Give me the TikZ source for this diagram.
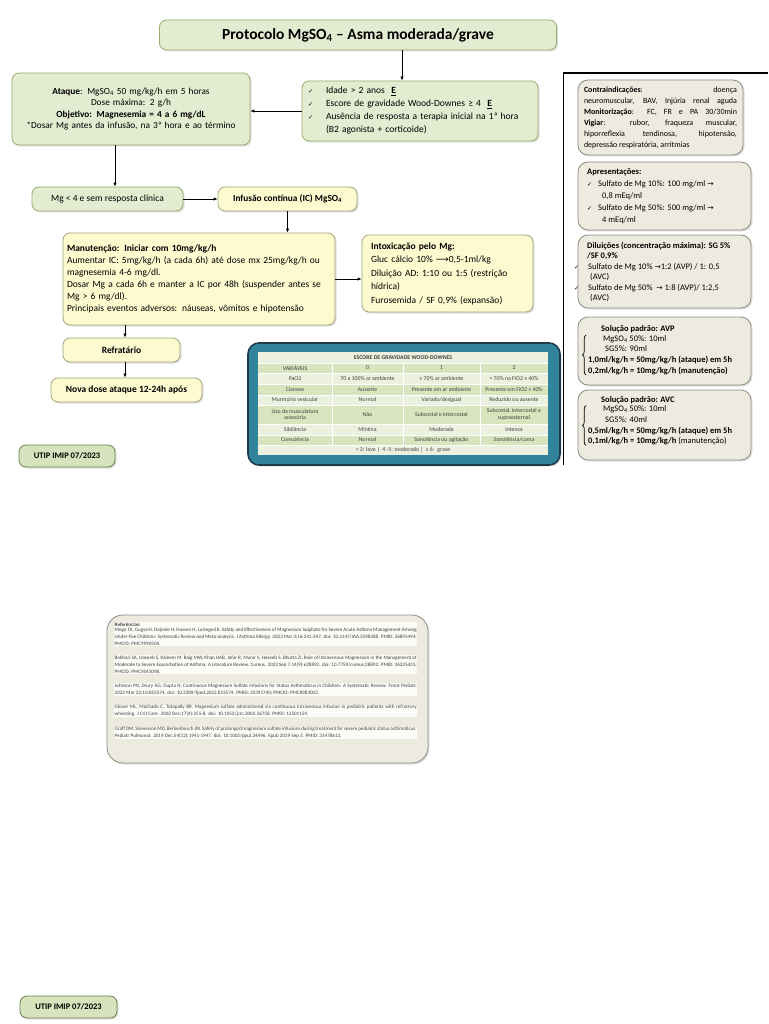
\documentclass[tikz,border=0pt]{standalone}
\usepackage{fontspec}
\setmainfont{Carlito}
\newfontfamily\dejavu{DejaVu Sans}
\usetikzlibrary{arrows.meta,shadows,decorations.pathreplacing}
\definecolor{grfill}{HTML}{E3EBD1}
\definecolor{grdraw}{HTML}{95AC6C}
\definecolor{yefill}{HTML}{FDFACF}
\definecolor{yedraw}{HTML}{A3A27A}
\definecolor{befill}{HTML}{EDEBE0}
\definecolor{bedraw}{HTML}{8C8C80}
\definecolor{utfill}{HTML}{D6E3BC}
\definecolor{utdraw}{HTML}{6E7F4E}
\definecolor{wdteal}{HTML}{31849B}
\definecolor{wdborder}{HTML}{1F3A48}
\definecolor{tgreen}{HTML}{D7E4BD}
\definecolor{tlight}{HTML}{EBF1DE}
\definecolor{ttext}{HTML}{404040}
\newcommand\ck{{\dejavu\fontsize{6}{6}\selectfont ✓}}
\newcommand\rarr{{\dejavu\fontsize{7.5}{7.5}\selectfont →}}
\newcommand\lrarr{{\dejavu\fontsize{9}{9}\selectfont ⟶}}
\newcommand\wdrow[6]{%
  \node[wdcell] (#1a) at (295,#2) {#3};
  \node[wdcell] (#1b) at (367.5,#2) {#4};
  \node[wdcell] (#1c) at (441.5,#2) {#5};
  \node[wdcell] (#1d) at (514,#2) {#6};}
\tikzset{
  box/.style={rounded corners=7pt, line width=0.8pt, inner sep=0pt,
    drop shadow={opacity=0.25, shadow xshift=1.5pt, shadow yshift=-1.5pt}},
  grbox/.style={box, fill=grfill, draw=grdraw},
  yebox/.style={box, fill=yefill, draw=yedraw},
  bebox/.style={box, fill=befill, draw=bedraw, rounded corners=10pt},
  utbox/.style={box, fill=utfill, draw=utdraw, font=\bfseries\fontsize{8.5}{9}\selectfont},
  arr/.style={line width=0.8pt, -{Latex[length=4pt,width=3.5pt]}},
  txt/.style={inner sep=0pt},
  rtxt/.style={txt, align=left, font=\fontsize{8.5}{12}\selectfont},
  lbrace/.style={decorate, decoration={brace, amplitude=3.5pt}, line width=0.7pt},
  wdcell/.style={inner sep=0pt, align=center, text=ttext, font=\fontsize{5.8}{6.4}\selectfont},
  reftext/.style={inner sep=0.5pt, fill=white, fill opacity=0.8, text opacity=1, text=ttext,
    text width=302pt, align=justify, font=\fontsize{5.1}{7}\selectfont}
}
\begin{document}
\begin{tikzpicture}[x=1pt,y=-1pt]
\useasboundingbox (0,0) rectangle (768,1024);
\fill[white] (0,0) rectangle (768,1024);

% title
\node[grbox, minimum width=397pt, minimum height=30pt, font=\bfseries\fontsize{15.5}{17}\selectfont] (title) at (358,35)
  {Protocolo MgSO\textsubscript{4} – Asma moderada/grave};

% criteria box
\node[grbox, minimum width=236pt, minimum height=60pt, text width=224pt, align=left, font=\fontsize{9.5}{13}\selectfont] (crit) at (420,111)
  {\makebox[18pt][l]{\ck}Idade > 2 anos \ \underline{\textbf{E}}\\
   \makebox[18pt][l]{\ck}Escore de gravidade Wood-Downes ≥ 4 \ \underline{\textbf{E}}\\
   \makebox[18pt][l]{\ck}Ausência de resposta a terapia inicial na 1ª hora\\
   \hspace*{18pt}(B2 agonista + corticoide)};

% ataque box
\node[grbox, minimum width=238pt, minimum height=72pt, text width=234pt, align=center, font=\fontsize{9.3}{11.3}\selectfont] (ataque) at (131,109)
  {\textbf{Ataque}: MgSO\textsubscript{4} 50 mg/kg/h em 5 horas\\
   Dose máxima: 2 g/h\\
   \textbf{Objetivo: Magnesemia = 4 a 6 mg/dL}\\
   {*}Dosar Mg antes da infusão, na 3ª hora e ao término};

% row
\node[grbox, minimum width=151pt, minimum height=24pt, font=\fontsize{9.5}{10}\selectfont] (mg) at (107.5,199)
  {Mg < 4 e sem resposta clínica};
\node[yebox, minimum width=139pt, minimum height=24pt, font=\bfseries\fontsize{9.3}{10}\selectfont] (inf) at (287.5,199)
  {Infusão contínua (IC) MgSO\textsubscript{4}};

% maintenance
\node[yebox, minimum width=272pt, minimum height=92pt, text width=264pt, align=left, font=\fontsize{9.5}{12}\selectfont] (manut) at (199,279)
  {\textbf{Manutenção: Iniciar com 10mg/kg/h}\\
   Aumentar IC: 5mg/kg/h (a cada 6h) até dose mx 25mg/kg/h ou\\
   magnesemia 4-6 mg/dl.\\
   Dosar Mg a cada 6h e manter a IC por 48h (suspender antes se\\
   Mg > 6 mg/dl).\\
   Principais eventos adversos: náuseas, vômitos e hipotensão};

% intoxication
\node[yebox, minimum width=171pt, minimum height=77pt, text width=153pt, align=left, font=\fontsize{9.5}{13.5}\selectfont] (intox) at (447.5,273.5)
  {\textbf{Intoxicação pelo Mg:}\\
   Gluc cálcio 10\% \lrarr0,5-1ml/kg\\
   Diluição AD: 1:10 ou 1:5 (restrição\\
   hídrica)\\
   Furosemida / SF 0,9\% (expansão)};

% refractory
\node[yebox, minimum width=117pt, minimum height=24pt, font=\bfseries\fontsize{9.5}{10}\selectfont] (refr) at (121.5,350) {Refratário};
\node[yebox, minimum width=151pt, minimum height=24pt, font=\bfseries\fontsize{9.5}{10}\selectfont] (nova) at (126.5,390) {Nova dose ataque 12-24h após};

% UTIP
\node[utbox, minimum width=96pt, minimum height=22pt] (utip1) at (67,456) {UTIP IMIP 07/2023};
\node[utbox, minimum width=97pt, minimum height=22pt] (utip2) at (68.5,1007) {UTIP IMIP 07/2023};

% connectors
\coordinate (cx) at (402,0);
\coordinate (ax) at (115,0);
\coordinate (rx) at (125,0);
\draw[arr] (title.south -| cx) -- (crit.north -| cx);
\draw[arr] (crit.west) -- (ataque.east |- crit.west);
\draw[arr] (ataque.south -| ax) -- (mg.north -| ax);
\draw[arr] (mg.east) -- (inf.west);
\draw[arr] (inf.south) -- (manut.north -| inf.south);
\draw[arr] (manut.east) -- (intox.west |- manut.east);
\draw[arr] (manut.south -| rx) -- (refr.north -| rx);
\draw[arr] (refr.south -| rx) -- (nova.north -| rx);

% Wood-Downes table
\node[draw=wdborder, fill=wdteal, line width=1.6pt, rounded corners=11pt, minimum width=312pt, minimum height=122pt,
      drop shadow={opacity=0.25, shadow xshift=1.5pt, shadow yshift=-1.5pt}] (wdframe) at (404,404) {};
\foreach \ya/\yb/\c in {352/363/tlight, 363/373/tgreen, 373/384/tlight, 384/395/tgreen, 395/405/tlight,
                        405/424/tgreen, 424/435/tlight, 435/445/tgreen, 445/455/tlight}
  \fill[\c] (258,\ya) rectangle (548,\yb);
\foreach \yy in {363,373,384,395,405,424,435,445}
  \draw[white, line width=0.7pt] (258,\yy) -- (548,\yy);
\foreach \xx in {332,403,480}
  \draw[white, line width=0.7pt] (\xx,363) -- (\xx,445);
\node[wdcell, font=\bfseries\fontsize{5.8}{6.4}\selectfont] (wdtitle) at (403,357.5) {ESCORE DE GRAVIDADE WOOD-DOWNES};
\wdrow{wv}{368}{VARIÁVEIS}{0}{1}{2}
\wdrow{wp}{378.5}{PaO2}{70 a 100\% ar ambiente}{≤ 70\% ar ambiente}{< 70\% na FiO2 ≥ 40\%}
\wdrow{wc}{389.5}{Cianose}{Ausente}{Presente em ar ambiente}{Presente em FiO2 ≥ 40\%}
\wdrow{wm}{400}{Murmúrio vesicular}{Normal}{Variado/desigual}{Reduzido ou ausente}
\wdrow{wu}{414.5}{Uso da musculatura\\acessória}{Não}{Subcostal e intercostal}{Subcostal, intercostal e\\supraesternal}
\wdrow{ws}{429.5}{Sibilância}{Mínima}{Moderada}{Intensa}
\wdrow{wk}{440}{Consciência}{Normal}{Sonolência ou agitação}{Sonolência/coma}
\node[wdcell] (wdfoot) at (403,450) {< 3: leve | \ 4 -5: moderado | \ ≥ 6: \ grave};

% right column frame
\draw[line width=1.6pt] (563,73) -- (768,73);
\draw[line width=1pt] (563,73) -- (563,465);

% right column boxes
\node[bebox, minimum width=165pt, minimum height=75pt] (contra) at (660.5,117.5) {};
\node[txt, text width=153pt, align=justify, font=\fontsize{8}{11}\selectfont] (contraT) at (contra.center)
  {\textbf{Contraindicações}: doença\linebreak
   neuromuscular, BAV, Injúria renal aguda\linebreak
   \textbf{Monitorização}: FC, FR e PA 30/30min\linebreak
   \textbf{Vigiar}: rubor, fraqueza muscular,\linebreak
   hiporreflexia tendinosa, hipotensão,\linebreak
   depressão respiratória, arritmias};

\node[bebox, minimum width=173pt, minimum height=68pt] (apres) at (664.5,196) {};
\node[rtxt, anchor=west] (apresT) at (587,196)
  {\textbf{Apresentações:}\\
   \makebox[11pt][l]{\ck}Sulfato de Mg 10\%: 100 mg/ml \rarr\\
   \hspace*{15pt}0,8 mEq/ml\\
   \makebox[11pt][l]{\ck}Sulfato de Mg 50\%: 500 mg/ml \rarr\\
   \hspace*{15pt}4 mEq/ml};

\node[bebox, minimum width=173pt, minimum height=73pt] (dil) at (664.5,271.5) {};
\node[rtxt, anchor=west, font=\fontsize{8.5}{10.5}\selectfont] (dilT) at (574,272)
  {\hspace*{13pt}\textbf{Diluições (concentração máxima): SG 5\%}\\
   \hspace*{13pt}\textbf{/SF 0,9\%}\\
   \makebox[14pt][l]{\ck}Sulfato de Mg 10\% \rarr1:2 (AVP) / 1: 0,5\\
   \hspace*{16pt}(AVC)\\
   \makebox[14pt][l]{\ck}Sulfato de Mg 50\% \ \rarr\ 1:8 (AVP)/ 1:2,5\\
   \hspace*{16pt}(AVC)};

\node[bebox, minimum width=173pt, minimum height=68pt] (avp) at (664.5,351) {};
\node[txt, anchor=west, font=\bfseries\fontsize{8.5}{10}\selectfont] (avpH) at (601,329.5) {Solução padrão: AVP};
\node[rtxt, anchor=north west, font=\fontsize{8.5}{10.7}\selectfont] (avpL) at (588,335)
  {\hspace*{15pt}MgSO\textsubscript{4} 50\%: 10ml\\
   \hspace*{17pt}SG5\%: 90ml\\
   \textbf{1,0ml/kg/h = 50mg/kg/h (ataque) em 5h}\\
   \textbf{0,2ml/kg/h = 10mg/kg/h (manutenção)}};
\draw[lbrace] ([xshift=-2pt]avpL.south west) -- ([xshift=-2pt]avpL.north west);

\node[bebox, minimum width=173pt, minimum height=70pt] (avc) at (664.5,425) {};
\node[txt, anchor=west, font=\bfseries\fontsize{8.5}{10}\selectfont] (avcH) at (601,400) {Solução padrão: AVC};
\node[rtxt, anchor=north west, font=\fontsize{8.5}{10.7}\selectfont] (avcL) at (588,405.5)
  {\hspace*{15pt}MgSO\textsubscript{4} 50\%: 10ml\\
   \hspace*{17pt}SG5\%: 40ml\\
   \textbf{0,5ml/kg/h = 50mg/kg/h (ataque) em 5h}\\
   \textbf{0,1ml/kg/h = 10mg/kg/h} (manutenção)};
\draw[lbrace] ([xshift=-2pt]avcL.south west) -- ([xshift=-2pt]avcL.north west);

% references
\node[bebox, rounded corners=16pt, minimum width=321pt, minimum height=148pt] (refs) at (267.5,689) {};
\node[reftext, anchor=north west] (rh) at (114,622) {\textbf{Referências:}};
\node[reftext, anchor=north west] (r1) at (rh.south west)
  {Mego TA, Gugsa H, Dejenie H, Hussen H, Lulseged K. Safety and Effectiveness of Magnesium Sulphate for Severe Acute Asthma Management Among Under-five Children: Systematic Review and Meta-analysis. J Asthma Allergy. 2023 Mar 3;16:241-247. doi: 10.2147/JAA.S398388. PMID: 36895494; PMCID: PMC9990504.};
\node[reftext, anchor=north west] (r2) at ([yshift=-9pt]r1.south west)
  {Bokhari SA, Haseeb S, Kaleem M, Baig MW, Khan HAB, Jafar R, Munir S, Haseeb S, Bhutta ZI. Role of Intravenous Magnesium in the Management of Moderate to Severe Exacerbation of Asthma: A Literature Review. Cureus. 2022 Sep 7;14(9):e28892. doi: 10.7759/cureus.28892. PMID: 36225425; PMCID: PMC9543098.};
\node[reftext, anchor=north west] (r3) at ([yshift=-9pt]r2.south west)
  {Johnson PN, Drury AG, Gupta N. Continuous Magnesium Sulfate Infusions for Status Asthmaticus in Children: A Systematic Review. Front Pediatr. 2022 Mar 22;10:853574. doi: 10.3389/fped.2022.853574. PMID: 35391740; PMCID: PMC8983002.};
\node[reftext, anchor=north west] (r4) at ([yshift=-9pt]r3.south west)
  {Glover ML, Machado C, Totapally BR. Magnesium sulfate administered via continuous intravenous infusion in pediatric patients with refractory wheezing. J Crit Care. 2002 Dec;17(4):255-8. doi: 10.1053/jcrc.2002.36758. PMID: 12501154.};
\node[reftext, anchor=north west] (r5) at ([yshift=-9pt]r4.south west)
  {Graff DM, Stevenson MD, Berkenbosch JW. Safety of prolonged magnesium sulfate infusions during treatment for severe pediatric status asthmaticus. Pediatr Pulmonol. 2019 Dec;54(12):1941-1947. doi: 10.1002/ppul.24496. Epub 2019 Sep 3. PMID: 31478613.};
\end{tikzpicture}
\end{document}
